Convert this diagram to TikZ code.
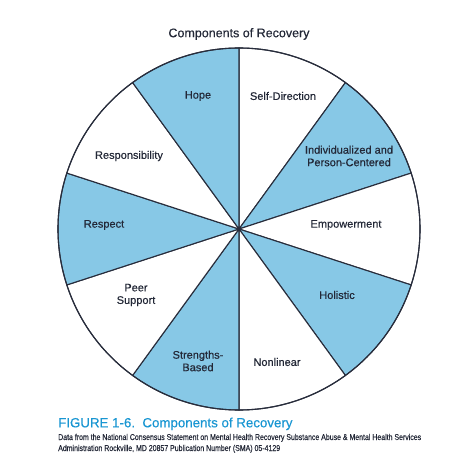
\documentclass[tikz,border=0pt]{standalone}
\usepackage{fontspec}
\setmainfont{Liberation Sans}
\newfontfamily\labelfont[UprightFeatures={FakeBold=0.4}]{Liberation Sans}
\newfontfamily\notefont[FakeStretch=0.82,UprightFeatures={FakeBold=0.3}]{Liberation Sans}
\usepackage{xcolor}
\definecolor{SliceFill}{RGB}{135,200,230}
\definecolor{SliceBorder}{RGB}{40,45,60}
\definecolor{LabelText}{RGB}{35,40,55}
\definecolor{CaptionBlue}{RGB}{25,150,210}
\usepackage{tikz}
\usetikzlibrary{
  positioning,
  calc
}
\tikzset{
  % White slice
  wslice/.style={
    draw=SliceBorder,
    fill=white,
    line width=1.1pt
  },
  % Blue slice
  bslice/.style={
    draw=SliceBorder,
    fill=SliceFill,
    line width=1.1pt
  },
  % Slice label
  slabel/.style={
    font=\labelfont\fontsize{11}{12.5}\selectfont,
    text=LabelText,
    align=center,
    inner sep=0pt
  },
  % Chart title
  ctitle/.style={
    font=\labelfont\fontsize{12.5}{14}\selectfont,
    text=LabelText,
    inner sep=0pt
  },
  % Figure caption
  fcaption/.style={
    font=\labelfont\fontsize{13.3}{15}\selectfont,
    text=CaptionBlue,
    anchor=base west,
    inner sep=0pt
  },
  % Source note
  fnote/.style={
    font=\notefont\fontsize{8.5}{11}\selectfont,
    text=LabelText,
    anchor=base west,
    inner sep=0pt
  }
}

\begin{document}
\begin{tikzpicture}[x=1pt,y=1pt]
  \useasboundingbox (0,0) rectangle (474,456);
  \coordinate (c) at (239,227);

  % Slices, clockwise from the top
  \foreach \i/\s in {0/wslice,1/bslice,2/wslice,3/bslice,4/wslice,
                     5/bslice,6/wslice,7/bslice,8/wslice,9/bslice}
    \draw[\s] (c) -- ++({90-36*\i}:181)
      arc[start angle={90-36*\i}, end angle={54-36*\i}, radius=181] -- cycle;
  \draw[SliceBorder, line width=1.1pt] (c) circle[radius=181];
  \fill[SliceBorder] (c) circle[radius=2];

  \node[ctitle] (title) at (239,422) {Components of Recovery};

  % Labels
  \node[slabel] (selfdir) at (283,360) {Self-Direction};
  \node[slabel] (indiv)   at (349,300) {Individualized and\\Person-Centered};
  \node[slabel] (empow)   at (346,231) {Empowerment};
  \node[slabel] (holis)   at (337,161) {Holistic};
  \node[slabel] (nonlin)  at (277,94)  {Nonlinear};
  \node[slabel] (streng)  at (198,95)  {Strengths-\\Based};
  \node[slabel] (peer)    at (136,161) {Peer\\Support};
  \node[slabel] (resp)    at (104,231) {Respect};
  \node[slabel] (respons) at (129,300) {Responsibility};
  \node[slabel] (hope)    at (198,360) {Hope};

  % Caption
  \node[fcaption] (cap) at (58,28.7) {FIGURE 1-6.\ \ Components of Recovery};
  \node[fnote] (note1) at (58,16) {Data from the National Consensus Statement on Mental Health Recovery Substance Abuse \& Mental Health Services};
  \node[fnote] (note2) at (58,5) {Administration Rockville, MD 20857 Publication Number (SMA) 05-4129};
\end{tikzpicture}
\end{document}
